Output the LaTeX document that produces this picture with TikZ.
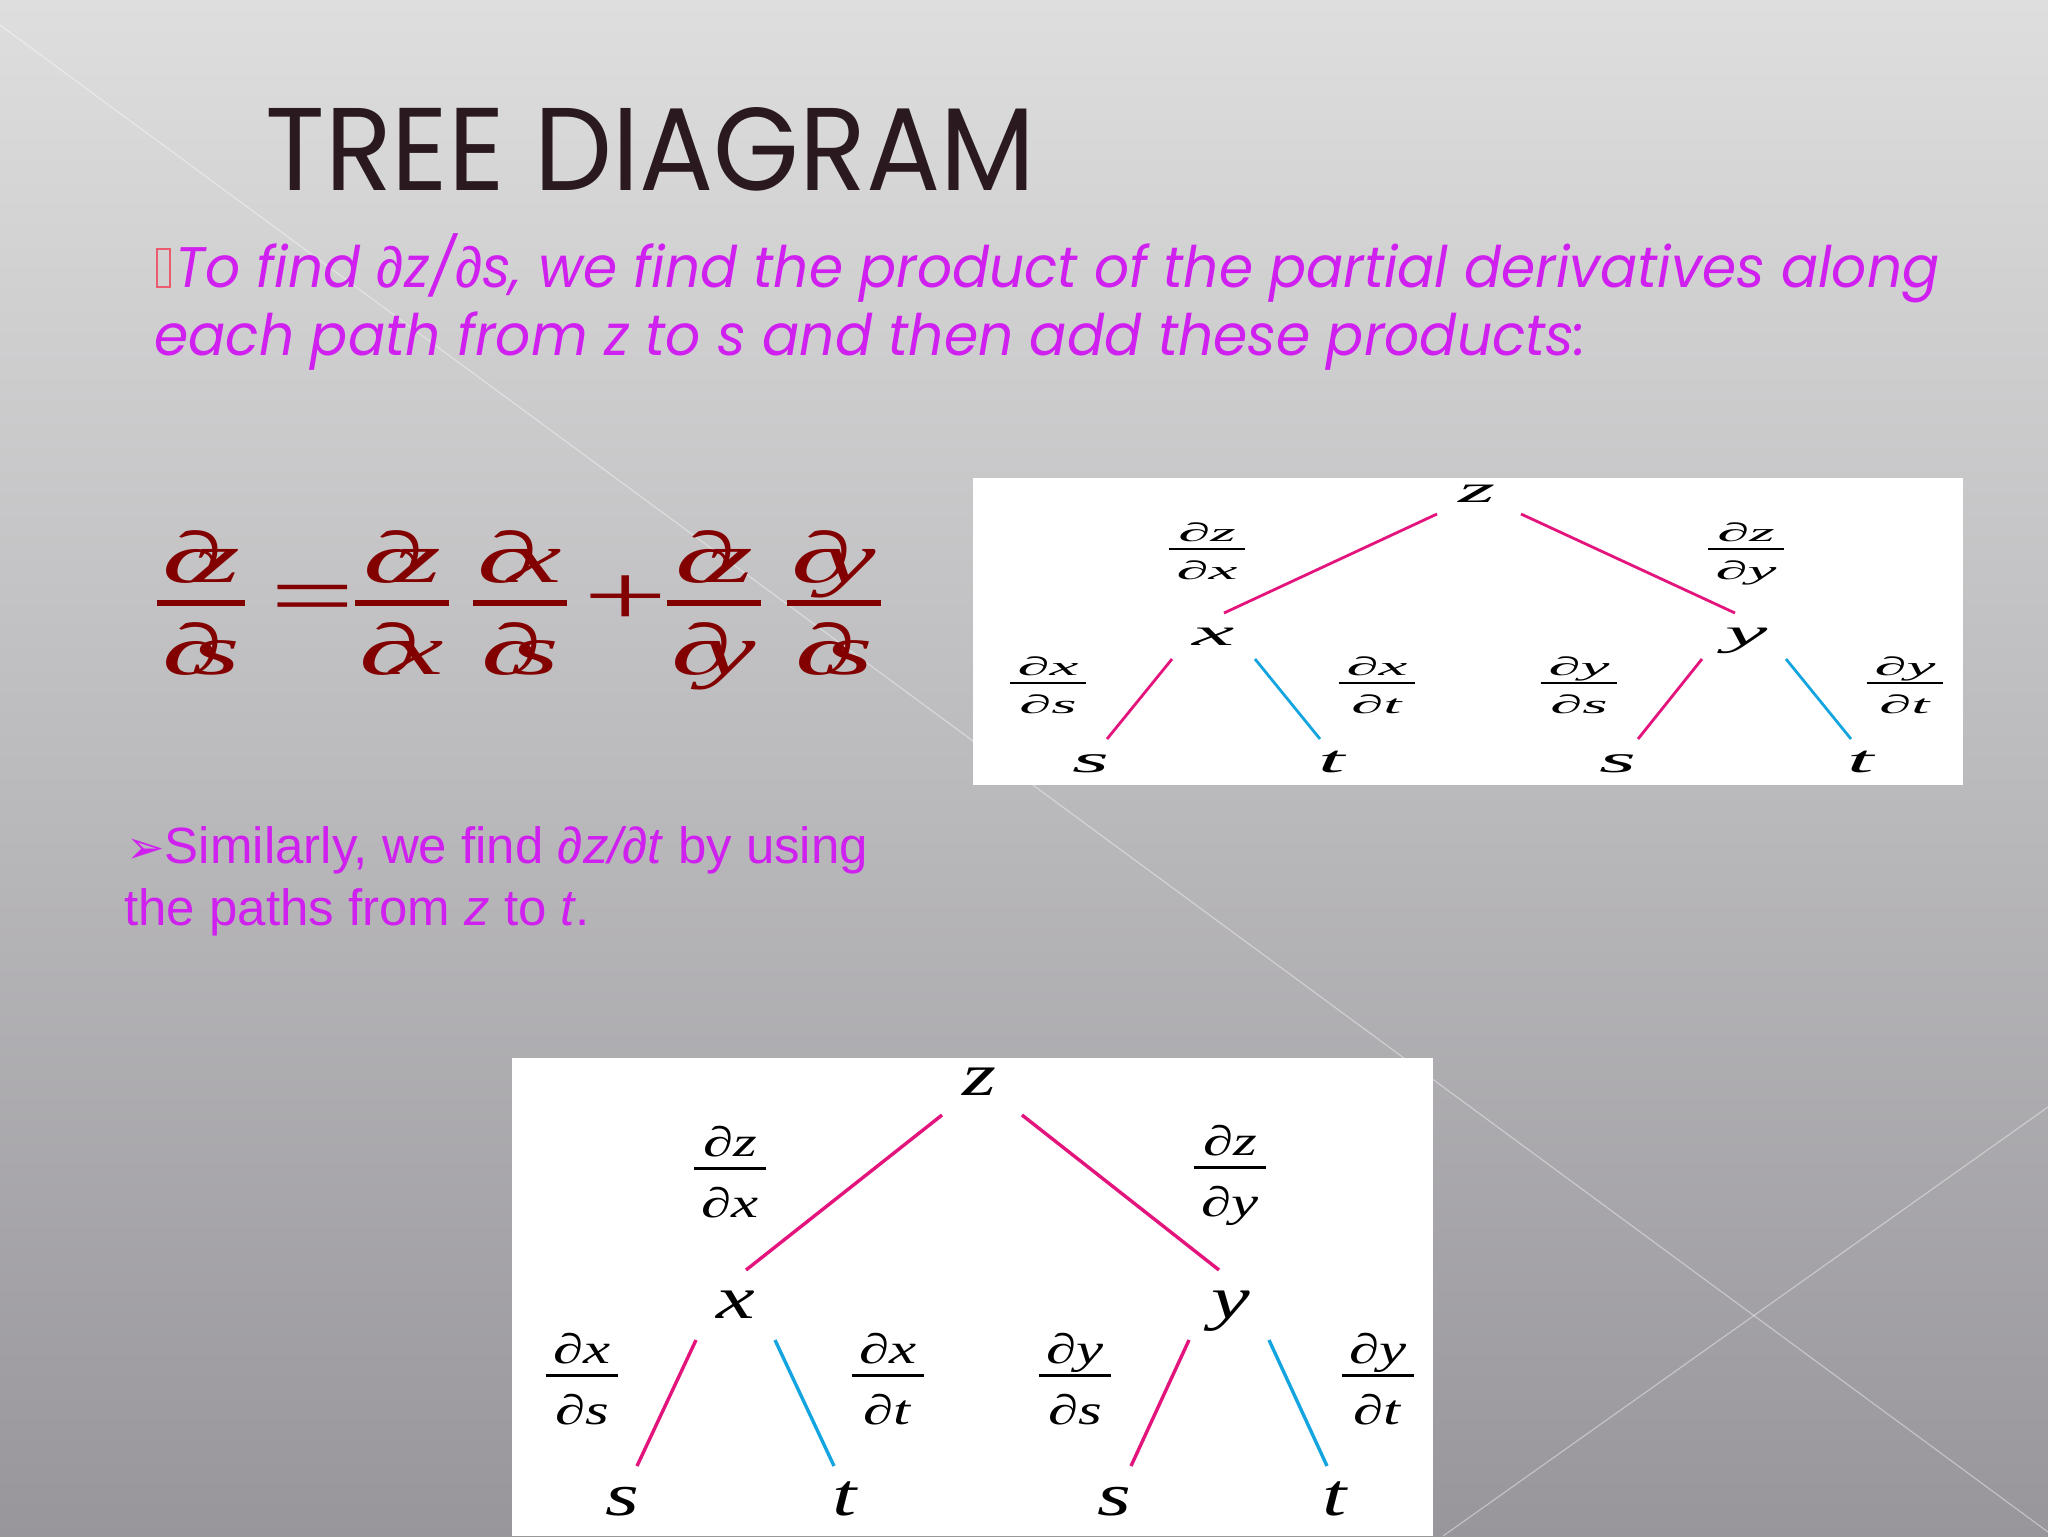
\documentclass[tikz,border=0pt]{standalone}
\usepackage{fontspec}
\usepackage{graphicx}
\setmainfont{Liberation Serif}
\newfontfamily\titlefont{Poppins}
\newfontfamily\bodyfont{Poppins}
\newfontfamily\arialfont{Liberation Sans}
\newfontfamily\dingfont{DejaVu Sans}

\definecolor{bgtop}{RGB}{222,222,222}
\definecolor{bgbot}{RGB}{152,150,155}
\definecolor{titlegray}{RGB}{42,26,32}
\definecolor{textviolet}{RGB}{208,32,240}
\definecolor{eqred}{RGB}{130,0,0}
\definecolor{edgepink}{RGB}{228,20,125}
\definecolor{edgecyan}{RGB}{20,165,225}
\definecolor{tofured}{RGB}{235,90,110}

% partial fraction: numerator over bar over denominator
\newcommand{\fpad}{.12em}
\newcommand{\pfrac}[3][.4em]{\vbox{\offinterlineskip\halign{\hfil\kern\fpad##\kern\fpad\hfil\cr
  \raisebox{0pt}[\height][0pt]{#2}\cr\noalign{\kern.25em\hrule height.08em\kern#1}#3\cr}}}
\newcommand{\wideA}[1]{\scalebox{2.5}[1]{#1}}
\newcommand{\wideB}[1]{\scalebox{1.45}[1]{#1}}
\newcommand{\wideC}[1]{\scalebox{1.7}[1]{#1}}

\tikzset{
  headtext/.style={font=\titlefont\fontsize{62}{70}\selectfont, text=titlegray, inner sep=0pt, anchor=base west},
  bodytext/.style={font=\bodyfont\itshape\fontsize{28.6}{34}\selectfont, text=textviolet, inner sep=0pt, anchor=base west},
  simtext/.style={font=\arialfont\fontsize{25.5}{30}\selectfont, text=textviolet, inner sep=0pt, anchor=base west},
  eqtext/.style={font=\fontsize{36}{40}\selectfont\renewcommand{\fpad}{.04em}, text=eqred, inner sep=0pt, anchor=base},
  vara/.style={font=\fontsize{19}{22}\selectfont\itshape, inner sep=0pt, text height=8.5pt, text depth=0pt},
  pda/.style={font=\fontsize{13}{16}\selectfont, inner sep=0pt, anchor=base},
  varb/.style={font=\fontsize{30}{36}\selectfont\itshape, inner sep=0pt, text height=13.4pt, text depth=0pt},
  pdb/.style={font=\fontsize{21}{25}\selectfont, inner sep=0pt, anchor=base},
  pinka/.style={draw=edgepink, line width=1.4pt},
  cyana/.style={draw=edgecyan, line width=1.4pt},
  pinkb/.style={draw=edgepink, line width=1.7pt},
  cyanb/.style={draw=edgecyan, line width=1.7pt},
  bgline/.style={draw=white, opacity=.4, line width=.6pt},
}

\begin{document}
\begin{tikzpicture}[x=0.5pt, y=-0.5pt]
  \useasboundingbox (0,0) rectangle (2048,1536);
  \shade[top color=bgtop, bottom color=bgbot] (0,0) rectangle (2048,1536);
  \draw[bgline] (0,25) -- (2048,1532);
  \draw[bgline] (1443,1536) -- (2048,1107);

  % heading and text
  \node[headtext] (head) at (265,190) {\resizebox{385pt}{41.5pt}{TREE DIAGRAM}};
  \draw[tofured, line width=.7pt] (157,249) rectangle (170,287);
  \node[bodytext] (find1) at (175,287)
    {\resizebox{882pt}{\height}{To find {\arialfont ∂}z/{\arialfont ∂}s, we find the product of the partial derivatives along}};
  \node[bodytext] (find2) at (154,355)
    {\resizebox{716pt}{\height}{each path from z to s and then add these products:}};
  \node[simtext] (sim1) at (126,863)
    {{\dingfont\fontsize{23}{26}\selectfont ➢}Similarly, we find \textit{∂z/∂t} by using};
  \node[simtext] (sim2) at (124,925) {the paths from \textit{z} to \textit{t}.};

  % chain rule
  \node[eqtext] (dzds) at (201,674) {\wideC{\pfrac[.22em]{∂\kern-.25em\textit{z}}{∂\kern-.25em\textit{s}}}};
  \node[eqtext] (eqsign) at (313,625) {\wideC{\fontsize{44}{48}\selectfont =}};
  \node[eqtext] (dzdx) at (402,674) {\wideC{\pfrac[.22em]{∂\kern-.25em\textit{z}}{∂\kern-.25em\textit{x}}}};
  \node[eqtext] (dxds) at (520,674) {\wideC{\pfrac[.22em]{∂\kern-.25em\textit{x}}{∂\kern-.25em\textit{s}}}};
  \node[eqtext] (plus) at (626,625) {\wideC{\fontsize{44}{48}\selectfont +}};
  \node[eqtext] (dzdy) at (714,674) {\wideC{\pfrac[.22em]{∂\kern-.25em\textit{z}}{∂\kern-.25em\textit{y}}}};
  \node[eqtext] (dyds) at (834,674) {\wideC{\pfrac[.22em]{∂\kern-.25em\textit{y}}{∂\kern-.25em\textit{s}}}};

  % upper tree
  \fill[white] (973,478) rectangle (1963,785);
  \node[vara] (za) at (1477,494) {\wideA{z}};
  \node[vara] (xa) at (1214,637) {\wideA{x}};
  \node[vara] (ya) at (1747,637) {\wideA{y}};
  \node[vara] (sa1) at (1091,764) {\wideA{s}};
  \node[vara] (ta1) at (1332,764) {\wideA{t}};
  \node[vara] (sa2) at (1618,764) {\wideA{s}};
  \node[vara] (ta2) at (1861,764) {\wideA{t}};
  \node[pda] (zxa) at (1207,579) {\wideA{\pfrac{∂\textit{z}}{∂\textit{x}}}};
  \node[pda] (zya) at (1746,579) {\wideA{\pfrac{∂\textit{z}}{∂\textit{y}}}};
  \node[pda] (xsa) at (1048,713) {\wideA{\pfrac{∂\textit{x}}{∂\textit{s}}}};
  \node[pda] (xta) at (1377,713) {\wideA{\pfrac{∂\textit{x}}{∂\textit{t}}}};
  \node[pda] (ysa) at (1579,713) {\wideA{\pfrac{∂\textit{y}}{∂\textit{s}}}};
  \node[pda] (yta) at (1905,713) {\wideA{\pfrac{∂\textit{y}}{∂\textit{t}}}};
  \draw[pinka] ([shift={(-40,20)}]za.center) -- ([shift={(10,-24)}]xa.center);
  \draw[pinka] ([shift={(44,20)}]za.center) -- ([shift={(-12,-24)}]ya.center);
  \draw[pinka] ([shift={(-42,22)}]xa.center) -- ([shift={(16,-25)}]sa1.center);
  \draw[cyana] ([shift={(41,22)}]xa.center) -- ([shift={(-12,-25)}]ta1.center);
  \draw[pinka] ([shift={(-45,22)}]ya.center) -- ([shift={(20,-25)}]sa2.center);
  \draw[cyana] ([shift={(39,22)}]ya.center) -- ([shift={(-10,-25)}]ta2.center);

  % lower tree
  \fill[white] (512,1058) rectangle (1433,1536);
  \node[varb] (zb) at (979,1082) {\wideB{z}};
  \node[varb] (xb) at (736,1305) {\wideB{x}};
  \node[varb] (yb) at (1231,1305) {\wideB{y}};
  \node[varb] (sb1) at (622,1502) {\wideB{s}};
  \node[varb] (tb1) at (845,1502) {\wideB{t}};
  \node[varb] (sb2) at (1114,1502) {\wideB{s}};
  \node[varb] (tb2) at (1335,1502) {\wideB{t}};
  \node[pdb] (zxb) at (730,1217) {\wideB{\pfrac{∂\textit{z}}{∂\textit{x}}}};
  \node[pdb] (zyb) at (1230,1216) {\wideB{\pfrac{∂\textit{z}}{∂\textit{y}}}};
  \node[pdb] (xsb) at (582,1424) {\wideB{\pfrac{∂\textit{x}}{∂\textit{s}}}};
  \node[pdb] (xtb) at (888,1424) {\wideB{\pfrac{∂\textit{x}}{∂\textit{t}}}};
  \node[pdb] (ysb) at (1075,1424) {\wideB{\pfrac{∂\textit{y}}{∂\textit{s}}}};
  \node[pdb] (ytb) at (1378,1424) {\wideB{\pfrac{∂\textit{y}}{∂\textit{t}}}};
  \draw[pinkb] ([shift={(-37,33)}]zb.center) -- ([shift={(10,-35)}]xb.center);
  \draw[pinkb] ([shift={(43,33)}]zb.center) -- ([shift={(-12,-35)}]yb.center);
  \draw[pinkb] ([shift={(-40,35)}]xb.center) -- ([shift={(15,-36)}]sb1.center);
  \draw[cyanb] ([shift={(39,35)}]xb.center) -- ([shift={(-11,-36)}]tb1.center);
  \draw[pinkb] ([shift={(-42,35)}]yb.center) -- ([shift={(17,-36)}]sb2.center);
  \draw[cyanb] ([shift={(38,35)}]yb.center) -- ([shift={(-8,-36)}]tb2.center);
\end{tikzpicture}
\end{document}
